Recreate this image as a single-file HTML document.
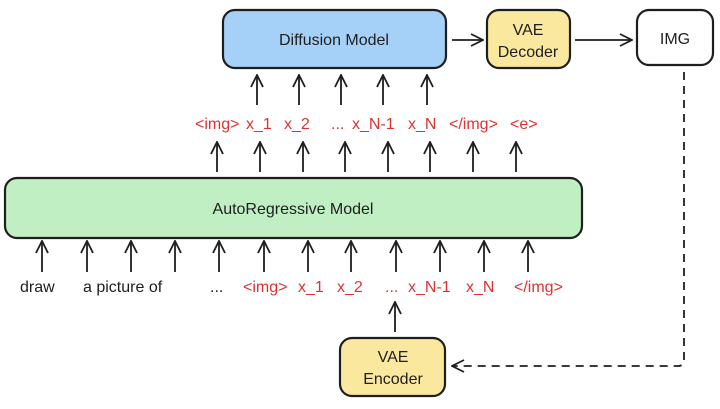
<!DOCTYPE html>
<html><head><style>
html,body{margin:0;padding:0;background:#fff;}
svg text{font-family:"Liberation Sans",sans-serif;}
</style></head><body>
<svg width="720" height="404" viewBox="0 0 720 404" xmlns="http://www.w3.org/2000/svg">
<defs>
<marker id="a" viewBox="0 0 14 14" refX="13" refY="7" markerWidth="14" markerHeight="14" markerUnits="userSpaceOnUse" orient="auto">
<path d="M1 1 L13 7 L1 13" fill="none" stroke="#1e1e1e" stroke-width="1.8"/>
</marker>
</defs>
<g stroke="#1e1e1e" stroke-width="2.2">
<rect x="223" y="10" width="223" height="58" rx="12" fill="#a5d0f7"/>
<rect x="487" y="10" width="83" height="58" rx="12" fill="#fbe89f"/>
<rect x="637" y="10" width="76" height="55" rx="12" fill="#fff"/>
<rect x="5" y="178" width="577" height="60" rx="12" fill="#bfefc2"/>
<rect x="340" y="338" width="105" height="58" rx="12" fill="#fbe89f"/>
</g>
<g stroke="#1e1e1e" stroke-width="1.8" fill="none" marker-end="url(#a)">
<line x1="452" y1="40" x2="483" y2="40"/>
<line x1="575" y1="40" x2="632" y2="40"/>
<line x1="257" y1="105" x2="257" y2="75"/>
<line x1="299" y1="105" x2="299" y2="75"/>
<line x1="341" y1="105" x2="341" y2="75"/>
<line x1="383" y1="105" x2="383" y2="75"/>
<line x1="427" y1="105" x2="427" y2="75"/>
<line x1="217" y1="172" x2="217" y2="142"/>
<line x1="260" y1="172" x2="260" y2="142"/>
<line x1="303" y1="172" x2="303" y2="142"/>
<line x1="345" y1="172" x2="345" y2="142"/>
<line x1="388" y1="172" x2="388" y2="142"/>
<line x1="430" y1="172" x2="430" y2="142"/>
<line x1="473" y1="172" x2="473" y2="142"/>
<line x1="516" y1="172" x2="516" y2="142"/>
<line x1="42" y1="272" x2="42" y2="241"/>
<line x1="87" y1="272" x2="87" y2="241"/>
<line x1="131" y1="272" x2="131" y2="241"/>
<line x1="175" y1="272" x2="175" y2="241"/>
<line x1="219" y1="272" x2="219" y2="241"/>
<line x1="264" y1="272" x2="264" y2="241"/>
<line x1="308" y1="272" x2="308" y2="241"/>
<line x1="351" y1="272" x2="351" y2="241"/>
<line x1="396" y1="272" x2="396" y2="241"/>
<line x1="440" y1="272" x2="440" y2="241"/>
<line x1="484" y1="272" x2="484" y2="241"/>
<line x1="528" y1="272" x2="528" y2="241"/>
<line x1="395" y1="332" x2="395" y2="302"/>
<path d="M684 72 L684 360 Q684 366 678 366 L452 366" stroke-dasharray="8 6"/>
</g>
<g font-size="16" fill="#1e1e1e" text-anchor="middle">
<text x="334" y="45">Diffusion Model</text>
<text x="528" y="35">VAE</text>
<text x="528" y="57">Decoder</text>
<text x="675" y="44">IMG</text>
<text x="293" y="214">AutoRegressive Model</text>
<text x="393" y="362">VAE</text>
<text x="393" y="384">Encoder</text>
</g>
<g font-size="16" fill="#e03131">
<text x="195" y="129">&lt;img&gt;</text>
<text x="246" y="129">x_1</text>
<text x="284" y="129">x_2</text>
<text x="331" y="129">...</text>
<text x="352" y="129">x_N-1</text>
<text x="408" y="129">x_N</text>
<text x="449" y="129">&lt;/img&gt;</text>
<text x="510" y="129">&lt;e&gt;</text>
</g>
<g font-size="16" fill="#1e1e1e">
<text x="20" y="292">draw</text>
<text x="83" y="292">a picture of</text>
<text x="210" y="292">...</text>
</g>
<g font-size="16" fill="#e03131">
<text x="243" y="292">&lt;img&gt;</text>
<text x="298" y="292">x_1</text>
<text x="337" y="292">x_2</text>
<text x="385" y="292">...</text>
<text x="408" y="292">x_N-1</text>
<text x="466" y="292">x_N</text>
<text x="514" y="292">&lt;/img&gt;</text>
</g>
</svg>
</body></html>
